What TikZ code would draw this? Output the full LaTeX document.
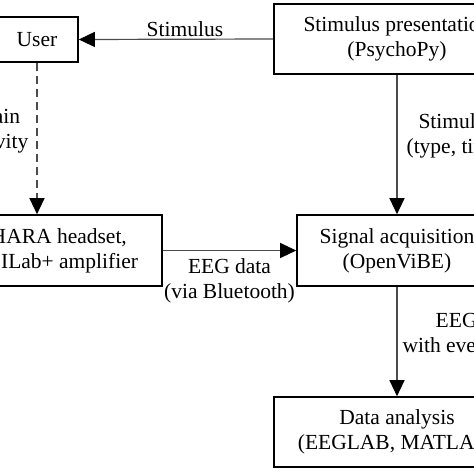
\documentclass[tikz,border=0pt]{standalone}
\usepackage{fontspec}
\setmainfont{Liberation Serif}
\usetikzlibrary{arrows.meta}

\tikzset{
  block/.style={draw, line width=1.6pt, align=center, inner sep=0pt},
  link/.style={line width=1.2pt, draw=black!70, -{Triangle[length=16pt,width=15pt,color=black]}},
  lbl/.style={align=center, inner sep=0pt}
}

\begin{document}
\begin{tikzpicture}[x=1pt, y=-1pt, font=\fontsize{21.5}{25}\selectfont]
\clip (0,0) rectangle (474,474);

\node[block, minimum width=82pt, minimum height=45pt] (user) at (37,39.5) {User};
\node[block, minimum width=246pt, minimum height=70pt] (stimpres) at (397,39) {Stimulus presentation\\(PsychoPy)};
\node[block, minimum width=250pt, minimum height=71pt] (headset) at (37,250.5) {g.SAHARA headset,\\g.MOBILab+ amplifier};
\node[block, minimum width=200pt, minimum height=71pt] (sigacq) at (397,250.5) {Signal acquisition\\(OpenViBE)};
\node[block, minimum width=246pt, minimum height=70pt] (analysis) at (397,432) {Data analysis\\(EEGLAB, MATLAB)};

\draw[link] (stimpres.west) -- node[lbl, pos=.454, above=2pt] {Stimulus} (user.east);
\draw[link, dash pattern=on 8pt off 5pt] (user.south) -- node[lbl, pos=.45, left=8pt] {Brain\\activity} (headset.north);
\draw[link] (stimpres.south) -- node[lbl, pos=.44, right=9pt] {Stimulus\\(type, time)} (sigacq.north);
\draw[link] (headset.east) -- node[lbl, below=7pt] {EEG data\\(via Bluetooth)} (sigacq.west);
\draw[link] (sigacq.south) -- node[lbl, pos=.42, right=5pt] {EEG signal\\with event markers} (analysis.north);

\end{tikzpicture}
\end{document}
